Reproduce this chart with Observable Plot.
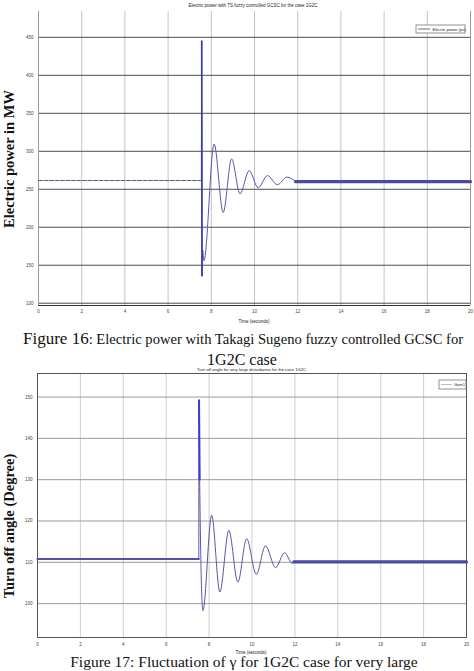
<!DOCTYPE html>
<html><head><meta charset="utf-8">
<script src="https://cdn.jsdelivr.net/npm/d3@7"></script>
<script src="https://cdn.jsdelivr.net/npm/@observablehq/plot@0.6"></script>
<style>
html,body{margin:0;padding:0;background:#fff;}
#page{position:relative;width:474px;height:671px;overflow:hidden;background:#fff;}
#c1,#c2,#ov{position:absolute;left:0;}
#c1{top:0;} #c2{top:362px;} #ov{top:0;pointer-events:none;}
</style></head>
<body><div id="page"><div id="c1"></div><div id="c2"></div><svg id="ov" width="474" height="671"></svg></div>
<script>
// ---- data ----
const timeTicks = [0,2,4,6,8,10,12,14,16,18,20];
const powerTicks = [100,150,200,250,300,350,400,450];
const gammaTicks = [100,110,120,130,140,150];

const powerTime = [0, 7.54, 7.555, 7.57, 7.6, 7.66, 8.13, 8.55, 8.94, 9.33, 9.75, 10.17, 10.6, 11.06, 11.5, 11.9, 20];
const powerMW   = [261.5, 261.5, 445, 136, 170, 156, 309.5, 219.5, 290, 244, 274.5, 252, 268, 256, 266, 260, 260];

const gammaTime = [0, 7.52, 7.53, 7.56, 7.71, 8.12, 8.5, 8.92, 9.34, 9.75, 10.2, 10.63, 11.1, 11.52, 11.88, 11.95, 20];
const gammaDeg  = [110.8, 110.8, 149.2, 130, 98.3, 121.4, 102.8, 117.7, 105.2, 115.7, 107.1, 114, 108.7, 112.3, 109.7, 110.1, 110.1];

const powerPhases = {dist: 7.54, spikeEnd: 7.57, settle: 11.9};
const gammaPhases = {dist: 7.52, spikeEnd: 7.56, settle: 11.95};

const powerRows = powerTime.map((t,i)=>({t, v: powerMW[i]}));
const gammaRows = gammaTime.map((t,i)=>({t, v: gammaDeg[i]}));

const tickStyle = {fontFamily:"'Liberation Sans', Arial, sans-serif", fontSize:"4.5px", color:"#333", background:"transparent", overflow:"visible"};

function lines(rows, ph, o) {
  return [
    Plot.line(rows, {x:"t", y:"v", filter: d => d.t <= ph.dist, stroke:o.baseColor, strokeWidth:o.baseWidth, strokeDasharray:o.baseDash}),
    Plot.line(rows, {x:"t", y:"v", filter: d => d.t >= ph.dist && d.t <= ph.settle, curve:"monotone-x", stroke:"#5656ac", strokeWidth:1}),
    Plot.line(rows, {x:"t", y:"v", filter: d => d.t >= ph.dist + 0.005 && d.t <= ph.spikeEnd, stroke:o.spikeColor, strokeWidth:o.spikeWidth}),
    Plot.line(rows, {x:"t", y:"v", filter: d => d.t >= ph.settle, stroke:"#4a4aa2", strokeWidth:3.2})
  ];
}

const p1 = Plot.plot({
  width:474, height:326, marginTop:11, marginBottom:21, marginLeft:38, marginRight:4,
  style: tickStyle,
  x:{domain:[0,20]}, y:{domain:[97,484]},
  marks:[
    Plot.gridX(timeTicks, {stroke:"#c4c4c4", strokeOpacity:1}),
    Plot.gridY(powerTicks, {stroke:"#3a3a3a", strokeOpacity:1, strokeWidth:0.9}),
    Plot.ruleY([97], {stroke:"#333"}),
    Plot.ruleX([0,20], {stroke:"#9a9a9a"}),
    Plot.axisX({ticks:timeTicks, tickSize:0, tickPadding:4, label:null, fill:"#444"}),
    Plot.axisY({ticks:powerTicks, tickSize:0, tickPadding:5, label:null, fill:"#444"}),
    ...lines(powerRows, powerPhases, {baseColor:"#5a5a80", baseWidth:1, baseDash:"4,1.5", spikeColor:"#3838b0", spikeWidth:1.6})
  ]
});
document.getElementById("c1").appendChild(p1);

const p2 = Plot.plot({
  width:474, height:298, marginTop:11, marginBottom:23, marginLeft:37, marginRight:8,
  style: tickStyle,
  x:{domain:[0,20]}, y:{domain:[91.8,155.7]},
  marks:[
    Plot.gridX(timeTicks, {stroke:"#cfcfcf", strokeOpacity:1}),
    Plot.gridY(gammaTicks, {stroke:"#9a9a9a", strokeOpacity:1}),
    Plot.frame({stroke:"#555"}),
    Plot.axisX({ticks:timeTicks, tickSize:0, tickPadding:5, label:null, fill:"#444"}),
    Plot.axisY({ticks:gammaTicks, tickSize:0, tickPadding:5, label:null, fill:"#444"}),
    ...lines(gammaRows, gammaPhases, {baseColor:"#5252a4", baseWidth:2, baseDash:null, spikeColor:"#3b3bd6", spikeWidth:2})
  ]
});
document.getElementById("c2").appendChild(p2);

// ---- overlay texts ----
const ov = d3.select("#ov");
const sans = "'Liberation Sans', Arial, sans-serif";
const serif = "'Liberation Serif', 'Times New Roman', serif";
function t(x, y, s, size, opt={}) {
  return ov.append("text").attr("x", x).attr("y", y)
    .attr("text-anchor", opt.anchor || "start")
    .style("font-family", opt.font || sans).style("font-size", size + "px")
    .style("font-weight", opt.weight || "normal").style("fill", opt.fill || "#222").text(s);
}
// titles
t(253, 6.5, "Electric power with TS fuzzy controlled GCSC for the case 1G2C", 4.5, {anchor:"middle"});
t(251.5, 370.8, "Turn off angle for very large disturbance for the case 1G2C", 4.2, {anchor:"middle"});
// x labels
t(254, 322.5, "Time (seconds)", 4.5, {anchor:"middle"});
t(251, 653.5, "Time (seconds)", 4.5, {anchor:"middle"});
// y labels
ov.append("text").attr("transform", "translate(13.5,159) rotate(-90)").attr("text-anchor","middle")
  .style("font-family", serif).style("font-size","14.5px").style("font-weight","bold").style("fill","#111")
  .text("Electric power in MW");
ov.append("text").attr("transform", "translate(13.5,526) rotate(-90)").attr("text-anchor","middle")
  .style("font-family", serif).style("font-size","14.5px").style("font-weight","bold").style("fill","#111")
  .text("Turn off angle (Degree)");
// legends
ov.append("rect").attr("x",416).attr("y",25).attr("width",49).attr("height",8).attr("fill","#fff").attr("stroke","#777").attr("stroke-width",0.8);
ov.append("line").attr("x1",418).attr("x2",430).attr("y1",29).attr("y2",29).attr("stroke","#444").attr("stroke-width",0.8);
t(432.5, 30.6, "Electric power (pu)", 4);
ov.append("rect").attr("x",439).attr("y",380).attr("width",27).attr("height",9).attr("fill","#fff").attr("stroke","#777").attr("stroke-width",0.8);
ov.append("line").attr("x1",441).attr("x2",452).attr("y1",384.5).attr("y2",384.5).attr("stroke","#aab").attr("stroke-width",0.8);
t(454, 386, "Gam1", 4);
// captions
const c1 = ov.append("text").attr("x", 23).attr("y", 343.5).style("font-family", serif).style("fill","#111");
c1.append("tspan").style("font-size","17px").text("Figure 16");
c1.append("tspan").style("font-size","14.6px").text(": Electric power with Takagi Sugeno fuzzy controlled GCSC for");
t(242, 365, "1G2C case", 16, {anchor:"middle", font:serif, fill:"#111"});
t(244, 667, "Figure 17: Fluctuation of \u03B3 for 1G2C case for very large", 15.5, {anchor:"middle", font:serif, fill:"#111"});
</script>
</body></html>
